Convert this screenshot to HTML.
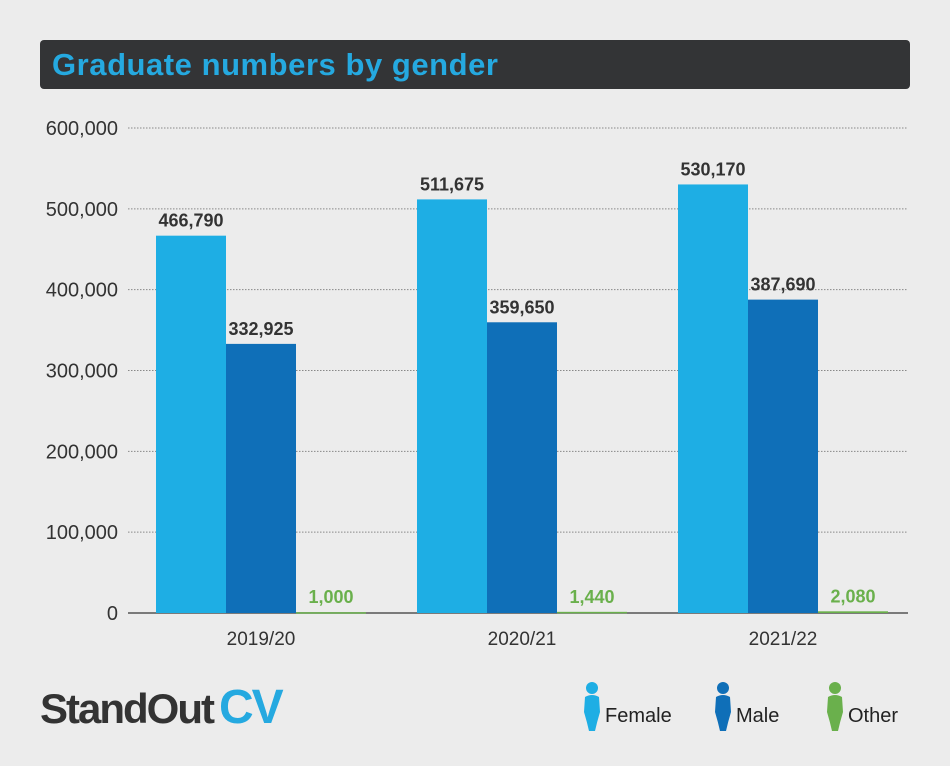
<!DOCTYPE html>
<html><head><meta charset="utf-8"><style>
body{margin:0;background:#ececec;}
svg{display:block;font-family:"Liberation Sans",sans-serif;}
</style></head><body>
<svg width="950" height="766" viewBox="0 0 950 766">
<rect x="0" y="0" width="950" height="766" fill="#ececec"/>
<rect x="40" y="40" width="870" height="49" rx="4" fill="#333436"/>
<text x="52" y="75" font-size="31" font-weight="bold" fill="#25a9e0" textLength="446">Graduate numbers by gender</text>
<g id="grid"></g><g id="bars"></g>
<text x="40" y="723" font-size="42" font-weight="bold" fill="#333" letter-spacing="-2">StandOut<tspan fill="#25a9e0" font-size="48" dx="6">CV</tspan></text>
<g id="legend"></g>
</svg>
<script>
const categories=["2019/20","2020/21","2021/22"];
const female=[466790,511675,530170];
const male=[332925,359650,387690];
const other=[1000,1440,2080];
const ticks=[0,100000,200000,300000,400000,500000,600000];
const NS="http://www.w3.org/2000/svg";
const y=v=>613-v*(485/600000);
const gx=i=>156+i*261;
function mk(t,a,p){const e=document.createElementNS(NS,t);for(const k in a)e.setAttribute(k,a[k]);p.appendChild(e);return e;}
const grid=document.getElementById('grid');
ticks.forEach(t=>{
 const l=mk('line',{x1:128,x2:908,y1:y(t),y2:y(t),stroke:t?'#888':'#555','stroke-width':t?1:1.5,'stroke-dasharray':t?'1.5,1.5':'none'},grid);
 
 
 const tx=mk('text',{x:118,y:y(t)+7,'text-anchor':'end','font-size':20,fill:'#333'},grid);
 tx.textContent=t.toLocaleString('en-US');
 
 
});
const bars=document.getElementById('bars');
const series=[[female,'#1eaee4','#333'],[male,'#0f6fb8','#333'],[other,'#6ab04c','#6ab04c']];
categories.forEach((c,i)=>{
 series.forEach(([vals,col,lc],s)=>{
  const x=gx(i)+s*70, v=vals[i];
  const r=mk('rect',{x:x,y:y(v),width:70,height:Math.max(613-y(v),1.5),fill:col},bars);
  
  
  const t=mk('text',{x:x+35,y:y(v)-9,'text-anchor':'middle','font-size':18,'font-weight':'bold',fill:lc},bars);
  t.textContent=v.toLocaleString('en-US');
  
  
 });
 const xl=mk('text',{x:gx(i)+105,y:645,'text-anchor':'middle','font-size':19,fill:'#333'},bars);
 xl.textContent=c;
 
 
});
const lg=document.getElementById('legend');
[['Female','#1eaee4',583],['Male','#0f6fb8',714],['Other','#6ab04c',826]].forEach(([n,col,x])=>{
 const g=mk('g',{},lg);
 
 
 mk('circle',{cx:x+9,cy:688,r:6,fill:col},g);
 mk('path',{d:`M${x+2} 697 Q${x+9} 693 ${x+16} 697 L${x+17} 712 Q${x+14} 722 ${x+12} 731 L${x+6} 731 Q${x+4} 722 ${x+1} 712 Z`,fill:col},g);
 const t=mk('text',{x:x+22,y:722,'font-size':20,fill:'#222'},g);t.textContent=n;
});
</script>
</body></html>
